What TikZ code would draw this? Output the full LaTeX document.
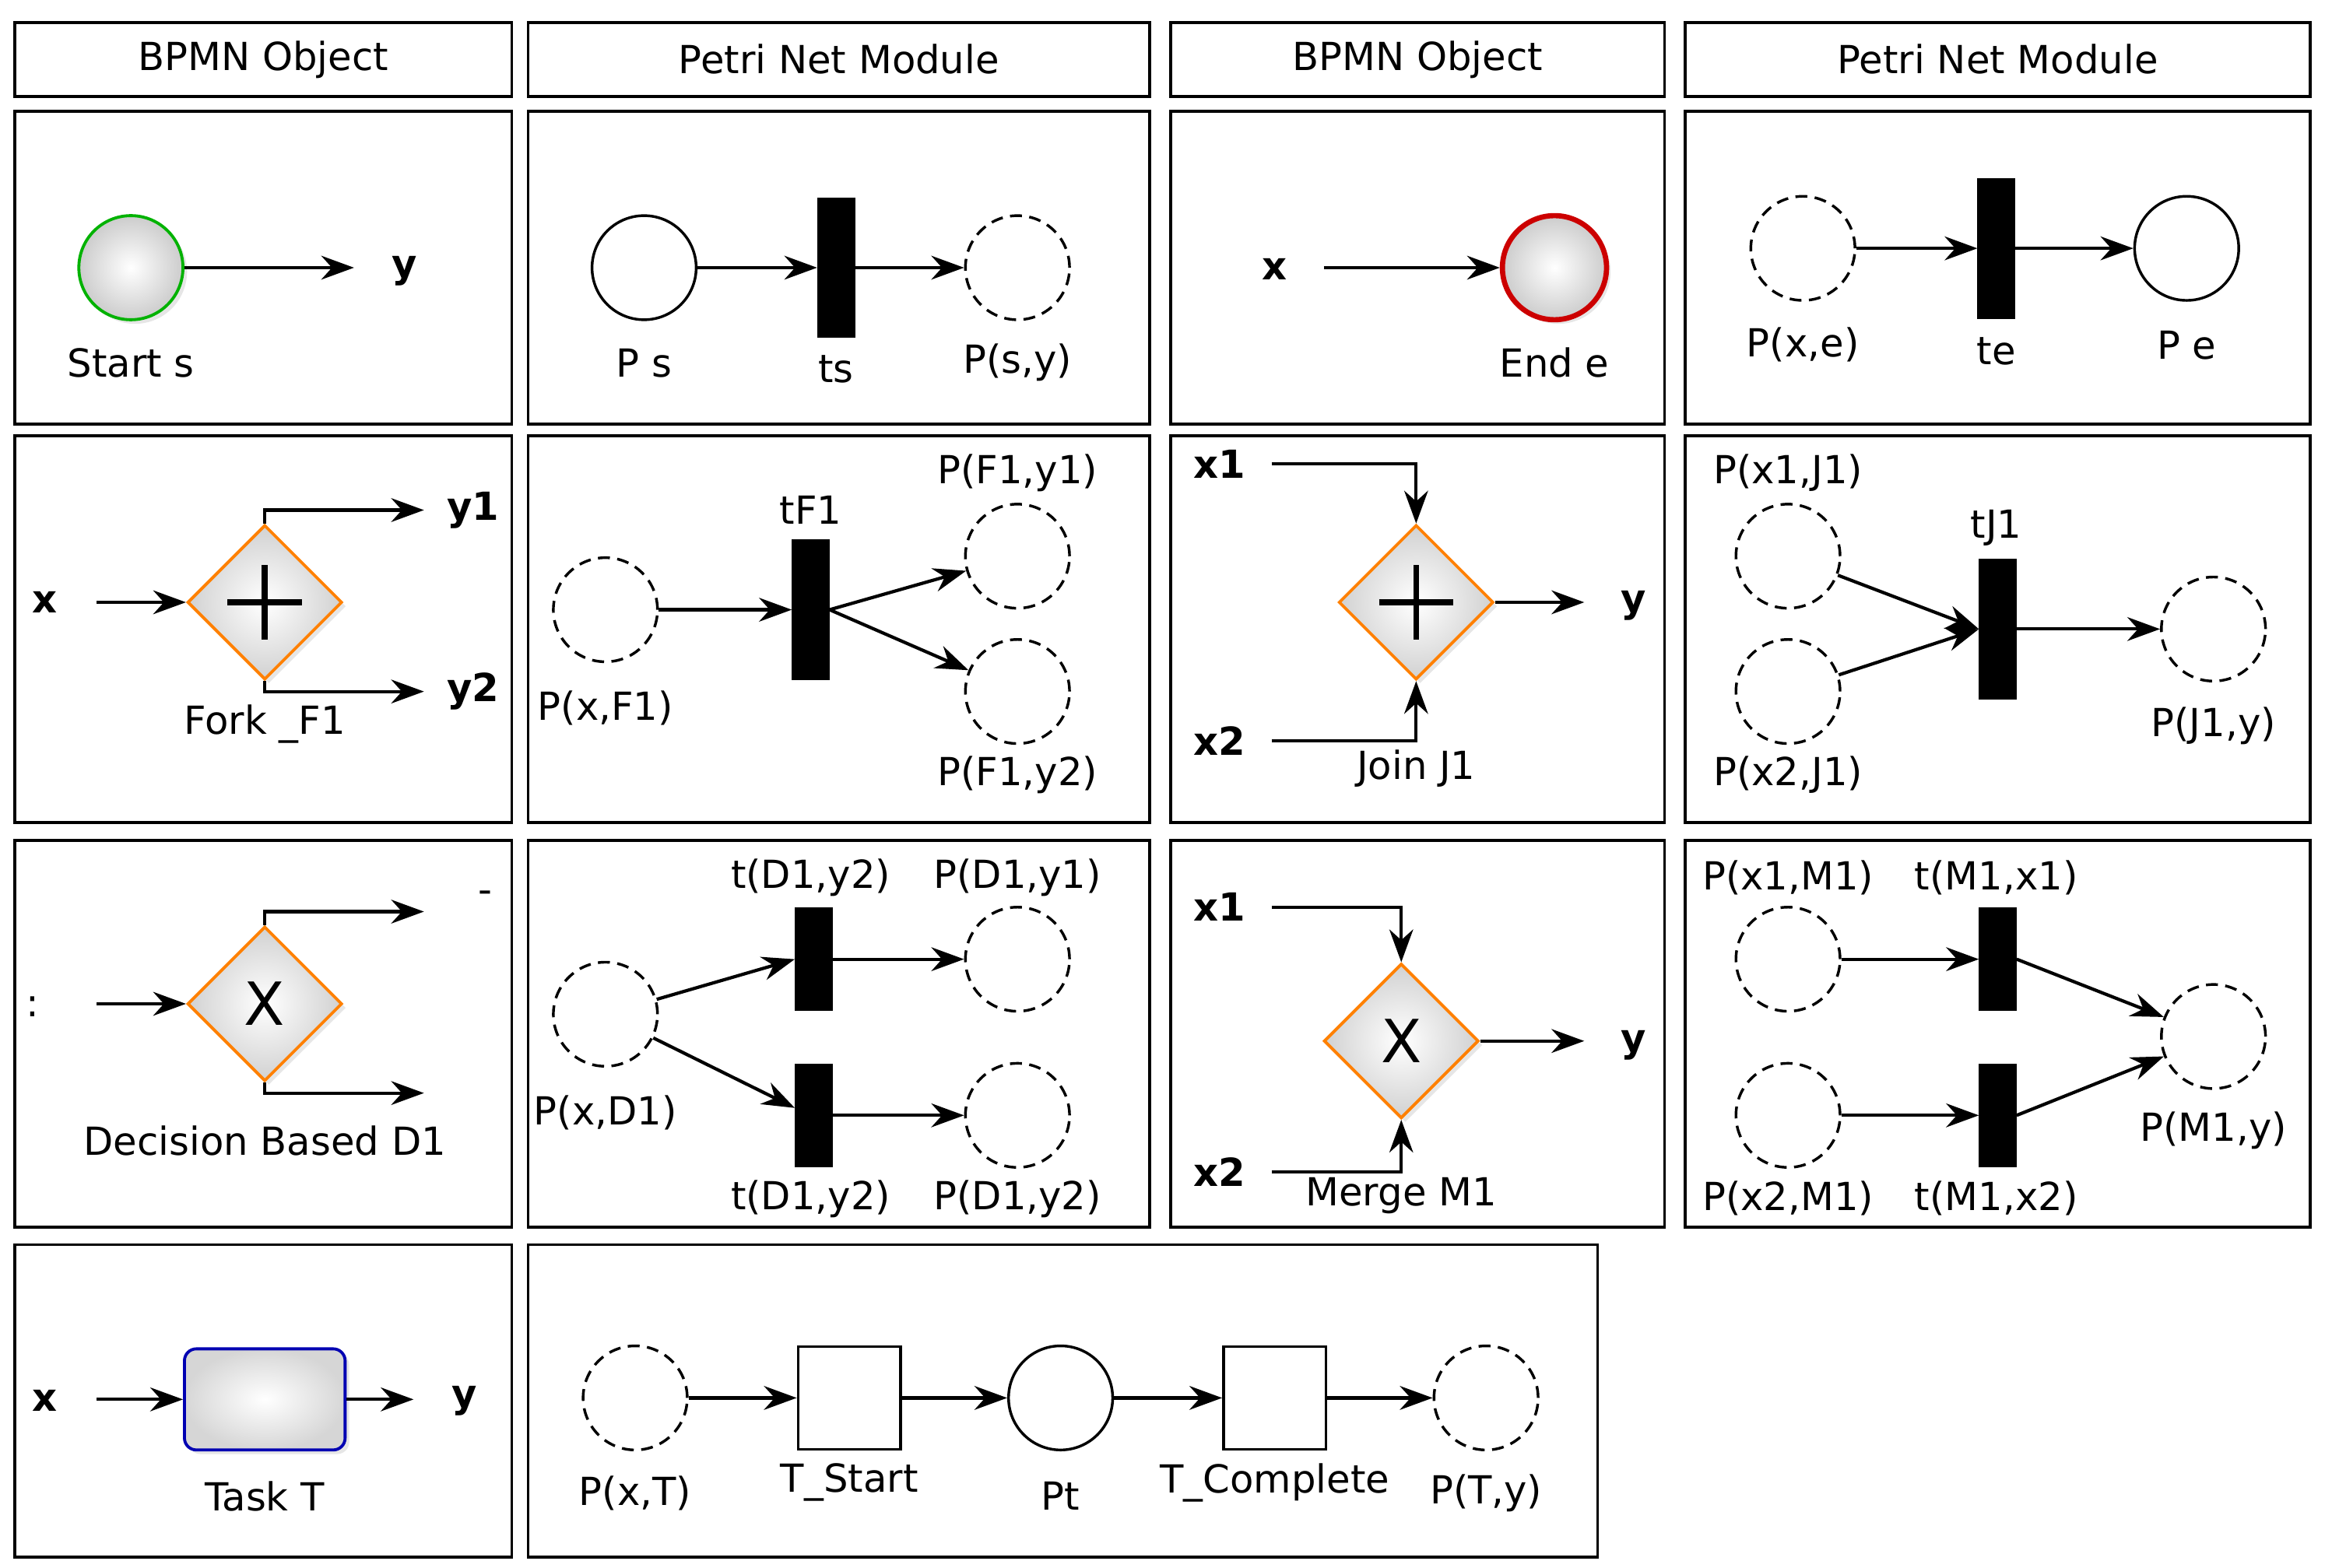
\documentclass[tikz,border=0pt]{standalone}
\usepackage{fontspec}
\setmainfont{DejaVu Sans}
\usetikzlibrary{arrows.meta,shapes.geometric,shadows,calc}
\begin{document}
\begin{tikzpicture}[x=1pt,y=-1pt,
  cell/.style={draw,line width=2pt},
  lab/.style={font=\fontsize{26}{30}\selectfont},
  blab/.style={font=\fontsize{26}{30}\selectfont\bfseries},
  pl/.style={draw,circle,minimum size=70pt,inner sep=0pt,line width=1.8pt},
  dpl/.style={pl,dash pattern=on 8pt off 5pt},
  bar/.style={draw,fill=black,minimum width=25pt,minimum height=94pt,inner sep=0pt},
  sbar/.style={draw,fill=black,minimum width=25pt,minimum height=69pt,inner sep=0pt},
  sq/.style={draw,minimum width=69pt,minimum height=69pt,inner sep=0pt,line width=1.8pt},
  ar/.style={line width=2.2pt,-{Stealth[length=22pt,width=16pt]}},
  gw/.style={draw=orange,line width=2pt,diamond,minimum width=104pt,minimum height=104pt,inner sep=0pt,inner color=white,outer color=black!18,drop shadow={opacity=0.2}},
  ev/.style={circle,minimum size=70pt,inner sep=0pt,inner color=white,outer color=black!20,drop shadow={opacity=0.2}}]
\useasboundingbox (0,0) rectangle (1563,1054);
% grid
\foreach \a/\b in {10/344,355/773,787/1119,1133/1553}{
  \draw[cell] (\a,15) rectangle (\b,65);
  \draw[cell] (\a,75) rectangle (\b,285);
  \draw[cell] (\a,293) rectangle (\b,553);
  \draw[cell] (\a,565) rectangle (\b,825);}
\draw[cell] (10,837) rectangle (344,1047);
\draw[cell] (355,837) rectangle (1074,1047);
\node[lab] (h1) at (177,40) {BPMN Object};
\node[lab] (h2) at (564,40) {Petri Net Module};
\node[lab] (h3) at (953,40) {BPMN Object};
\node[lab] (h4) at (1343,40) {Petri Net Module};
% row1
\node[ev,draw=green!70!black,line width=2pt] (s) at (88,180) {};
\node[blab] (sy) at (272,182) {y};
\coordinate (sye) at (238,180);
\draw[ar] (s) -- (sye);
\node[lab] (sl) at (88,244) {Start s};
\node[pl] (ps) at (433,180) {};
\node[bar] (ts) at (562,180) {};
\node[dpl] (psy) at (684,180) {};
\draw[ar] (ps) -- (ts); \draw[ar] (ts) -- (psy);
\node[lab] at (433,244) {P s};
\node[lab] at (562,248) {ts};
\node[lab] at (684,244) {P(s,y)};
\node[blab] (ex) at (857,181) {x};
\node[ev,draw=red!80!black,line width=3.5pt] (e) at (1045,180) {};
\coordinate (exs) at (890,180);
\draw[ar] (exs) -- (e);
\node[lab] at (1045,244) {End e};
\node[dpl] (pxe) at (1212,167) {};
\node[bar] (te) at (1342,167) {};
\node[pl] (pe) at (1470,167) {};
\draw[ar] (pxe) -- (te); \draw[ar] (te) -- (pe);
\node[lab] at (1212,232) {P(x,e)};
\node[lab] at (1342,236) {te};
\node[lab] at (1470,232) {P e};
% row2 fork
\node[gw] (f) at (178,405) {};
\draw[line width=4pt] (153,405) -- (203,405) (178,380) -- (178,430);
\node[blab] (fx) at (30,405) {x};
\coordinate (fxs) at (65,405);
\draw[ar] (fxs) -- (f.west);
\coordinate (fy1) at (285,343); \coordinate (fy2) at (285,465);
\draw[ar] (f.north) |- (fy1);
\draw[ar] (f.south) |- (fy2);
\node[blab] at (318,343) {y1};
\node[blab] at (318,465) {y2};
\node[lab] at (178,487) {Fork \_F1};
\node[dpl] (pxf) at (407,410) {};
\node[bar] (tf) at (545,410) {};
\node[dpl] (pf1) at (684,374) {};
\node[dpl] (pf2) at (684,465) {};
\draw[ar] (pxf) -- (tf);
\draw[ar] (tf.east) -- (pf1); \draw[ar] (tf.east) -- (pf2);
\node[lab] at (545,343) {tF1};
\node[lab] at (684,318) {P(F1,y1)};
\node[lab] at (684,521) {P(F1,y2)};
\node[lab] at (407,476) {P(x,F1)};
% join
\node[gw] (j) at (952,405) {};
\draw[line width=4pt] (927,405) -- (977,405) (952,380) -- (952,430);
\node[blab] at (820,312) {x1};
\node[blab] at (820,498) {x2};
\coordinate (jx1) at (855,312); \coordinate (jx2) at (855,498);
\draw[ar] (jx1) -| (j.north);
\draw[ar] (jx2) -| (j.south);
\coordinate (jy) at (1065,405);
\draw[ar] (j.east) -- (jy);
\node[blab] at (1098,407) {y};
\node[lab] at (952,517) {Join J1};
\node[dpl] (pj1) at (1202,374) {};
\node[dpl] (pj2) at (1202,465) {};
\node[bar] (tj) at (1343,423) {};
\node[dpl] (pjy) at (1488,423) {};
\draw[ar] (pj1) -- (tj.west); \draw[ar] (pj2) -- (tj.west);
\draw[ar] (tj) -- (pjy);
\node[lab] at (1342,355) {tJ1};
\node[lab] at (1202,318) {P(x1,J1)};
\node[lab] at (1202,521) {P(x2,J1)};
\node[lab] at (1488,488) {P(J1,y)};
% row3 decision
\node[gw] (d) at (178,675) {};
\node[font=\fontsize{40}{40}\selectfont] at (178,675) {X};
\node[lab] at (22,677) {:};
\node[lab] at (326,603) {-};
\coordinate (dxs) at (65,675);
\draw[ar] (dxs) -- (d.west);
\coordinate (dy1) at (285,613); \coordinate (dy2) at (285,735);
\draw[ar] (d.north) |- (dy1);
\draw[ar] (d.south) |- (dy2);
\node[lab] at (178,767) {Decision Based D1};
\node[dpl] (pxd) at (407,682) {};
\node[sbar] (td1) at (547,645) {};
\node[sbar] (td2) at (547,750) {};
\node[dpl] (pd1) at (684,645) {};
\node[dpl] (pd2) at (684,750) {};
\draw[ar] (pxd) -- (td1.west); \draw[ar] (pxd) -- ($(td2.west)+(0,-5)$);
\draw[ar] (td1) -- (pd1); \draw[ar] (td2) -- (pd2);
\node[lab] at (545,590) {t(D1,y2)};
\node[lab] at (684,590) {P(D1,y1)};
\node[lab] at (407,748) {P(x,D1)};
\node[lab] at (545,806) {t(D1,y2)};
\node[lab] at (684,806) {P(D1,y2)};
% merge
\node[gw] (m) at (942,700) {};
\node[font=\fontsize{40}{40}\selectfont] at (942,700) {X};
\node[blab] at (820,610) {x1};
\node[blab] at (820,788) {x2};
\coordinate (mx1) at (855,610); \coordinate (mx2) at (855,788);
\draw[ar] (mx1) -| (m.north);
\draw[ar] (mx2) -| (m.south);
\coordinate (my) at (1065,700);
\draw[ar] (m.east) -- (my);
\node[blab] at (1098,703) {y};
\node[lab] at (942,804) {Merge M1};
\node[dpl] (pm1) at (1202,645) {};
\node[dpl] (pm2) at (1202,750) {};
\node[sbar] (tm1) at (1343,645) {};
\node[sbar] (tm2) at (1343,750) {};
\node[dpl] (pmy) at (1488,697) {};
\draw[ar] (pm1) -- (tm1); \draw[ar] (pm2) -- (tm2);
\draw[ar] (tm1.east) -- (pmy); \draw[ar] (tm2.east) -- (pmy);
\node[lab] at (1202,590) {P(x1,M1)};
\node[lab] at (1342,590) {t(M1,x1)};
\node[lab] at (1202,806) {P(x2,M1)};
\node[lab] at (1342,806) {t(M1,x2)};
\node[lab] at (1488,760) {P(M1,y)};
% row4 task
\node[draw=blue!70!black,line width=2pt,rounded corners=8pt,minimum width=108pt,minimum height=68pt,inner sep=0pt,inner color=white,outer color=black!16,drop shadow={opacity=0.2}] (t) at (178,941) {};
\node[blab] at (30,942) {x};
\node[blab] at (312,942) {y};
\coordinate (txs) at (65,941); \coordinate (tye) at (278,941);
\draw[ar] (txs) -- (t); \draw[ar] (t) -- (tye);
\node[lab] at (178,1006) {Task T};
\node[dpl] (pxt) at (427,940) {};
\node[sq] (tst) at (571,940) {};
\node[pl] (pt) at (713,940) {};
\node[sq] (tco) at (857,940) {};
\node[dpl] (pty) at (999,940) {};
\draw[ar] (pxt) -- (tst); \draw[ar] (tst) -- (pt); \draw[ar] (pt) -- (tco); \draw[ar] (tco) -- (pty);
\node[lab] at (427,1004) {P(x,T)};
\node[lab] at (571,997) {T\_Start};
\node[lab] at (713,1006) {Pt};
\node[lab] at (857,997) {T\_Complete};
\node[lab] at (999,1004) {P(T,y)};
\end{tikzpicture}
\end{document}
